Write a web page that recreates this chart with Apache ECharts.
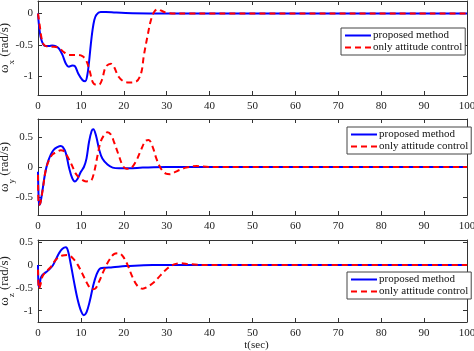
<!DOCTYPE html>
<html>
<head>
<meta charset="utf-8">
<script src="https://cdn.jsdelivr.net/npm/echarts@6/dist/echarts.min.js"></script>
<style>
html,body{margin:0;padding:0;background:#fff;}
#main{width:474px;height:351px;}
</style>
</head>
<body>
<div id="main"></div>
<script>
// omega_x
var tBx = [0,0.23,0.6,1.2,1.8,2.6,3.3,4.1,4.9,5.7,6.5,7.2,8.0,8.6,9.4,10.35,11.0,11.5,11.9,12.3,12.7,13.1,13.6,14.6,15.8,18.1,22,30,100];
var bX  = [0,-0.19,-0.37,-0.49,-0.52,-0.52,-0.51,-0.52,-0.56,-0.66,-0.8,-0.85,-0.83,-0.84,-0.96,-1.06,-1.08,-0.98,-0.77,-0.5,-0.27,-0.11,-0.02,0.025,0.025,0.015,0.005,0,0];
var tRx = [0,0.4,0.85,1.4,2.6,3.7,4.9,6.1,7.2,8.8,10.35,11.3,12.1,12.8,13.7,14.4,15.0,15.8,17.0,17.7,18.8,19.9,21.2,22.8,24.0,24.7,25.5,26.3,27.1,27.9,28.6,29.8,32,100];
var rX  = [0,-0.19,-0.4,-0.5,-0.53,-0.53,-0.55,-0.62,-0.66,-0.66,-0.68,-0.76,-0.93,-1.1,-1.14,-1.13,-1.04,-0.85,-0.8,-0.85,-1.01,-1.08,-1.1,-1.09,-0.96,-0.66,-0.37,-0.11,0.03,0.07,0.05,0.015,0,0];

// omega_y
var tBy = [0,0.15,0.3,0.55,1.0,1.6,2.2,3.0,3.7,4.5,5.3,5.8,6.5,7.2,8.0,8.6,9.2,10.0,10.7,11.3,11.9,12.5,12.9,13.5,14.3,15.0,16.2,17.4,18.9,21.2,24.4,30,100];
var bY  = [-0.08,-0.52,-0.63,-0.6,-0.41,-0.13,0.06,0.21,0.29,0.33,0.35,0.33,0.23,0,-0.19,-0.24,-0.2,-0.08,0,0.14,0.42,0.6,0.63,0.53,0.28,0.14,0.04,-0.01,-0.02,-0.02,-0.01,0,0];
var tRy = [0,0.2,0.55,1.2,1.8,2.6,3.4,4.1,5.3,6.1,6.9,7.9,8.8,10.0,11.2,12.3,13.1,13.9,14.6,15.4,16.2,17.0,17.7,18.8,19.7,20.6,21.6,22.8,24.0,25.0,25.8,26.7,27.6,28.6,29.8,30.8,31.8,33.0,34.5,37,40,100];
var rY  = [-0.13,-0.63,-0.6,-0.33,-0.05,0.12,0.21,0.24,0.28,0.26,0.17,0.03,-0.11,-0.2,-0.24,-0.23,-0.08,0.2,0.42,0.53,0.58,0.54,0.42,0.2,0.03,-0.03,-0.02,0.09,0.28,0.43,0.45,0.34,0.14,-0.02,-0.11,-0.12,-0.09,-0.05,-0.01,0.015,0,0];

// omega_z
var tBz = [0,0.08,0.23,0.4,0.6,1.0,1.8,2.6,3.4,4.1,4.9,5.7,6.5,7.0,7.6,8.4,9.2,10.0,10.7,11.3,12.1,12.8,13.6,14.6,15.8,17.4,20.5,23.6,26.7,100];
var bZ  = [0,-0.37,-0.48,-0.44,-0.3,-0.22,-0.16,-0.1,-0.015,0.11,0.26,0.36,0.39,0.31,0.04,-0.37,-0.74,-1.0,-1.1,-1.04,-0.78,-0.48,-0.22,-0.07,-0.06,-0.05,-0.02,-0.01,0,0];
var tRz = [0,0.23,0.55,1.0,1.8,3.0,4.1,5.7,6.9,8.0,9.2,10.35,11.5,12.5,13.3,14.2,15.4,16.6,17.7,18.9,19.8,20.9,22.0,23.2,24.4,25.5,27.1,28.6,30.2,31.7,33.3,35.2,40,100];
var rZ  = [-0.1,-0.52,-0.44,-0.26,-0.15,-0.04,0.11,0.21,0.22,0.16,0.015,-0.19,-0.41,-0.53,-0.52,-0.37,-0.11,0.11,0.24,0.26,0.19,0,-0.26,-0.46,-0.52,-0.48,-0.37,-0.22,-0.07,0.015,0.04,0.02,0,0];

var xTicks = [0,10,20,30,40,50,60,70,80,90,100];
var yTicks1 = [-1,-0.5,0];
var yTicks2 = [-0.5,0,0.5];
var yTicks3 = [-1,-0.5,0,0.5];
var names = ['proposed method','only attitude control'];

var font = 'Liberation Serif';
function pairs(t, v){ return t.map(function(x,i){ return [x, v[i]]; }); }

var grids = [
  {left:38, right:7, top:1, height:94, outerBoundsMode:'none', containLabel:false},
  {left:38, right:7, top:119, height:96, outerBoundsMode:'none', containLabel:false},
  {left:38, right:7, top:240, height:82, outerBoundsMode:'none', containLabel:false}
];
var yRanges = [[-1.3,0.2],[-0.8,0.8],[-1.25,0.55]];
var yTicks = [yTicks1, yTicks2, yTicks3];
var ySub = ['x','y','z'];
var legendPos = [{left:341, top:28},{left:347, top:127},{left:347, top:272}];

var xAxes = [], yAxes = [], legends = [], series = [];
var lineAx = {show:true, onZero:false, lineStyle:{color:'#333', width:1}};
for (var g = 0; g < 3; g++) {
  var xa = {type:'value', gridIndex:g, min:0, max:100, position:'bottom',
    axisLine:lineAx, splitLine:{show:false},
    axisTick:{inside:true, length:4, customValues:xTicks, lineStyle:{color:'#333'}},
    axisLabel:{margin:6, customValues:xTicks, color:'#222', fontFamily:font, fontSize:11}};
  if (g == 2) {
    xa.name = 't(sec)'; xa.nameLocation = 'middle'; xa.nameGap = 18; xa.nameMoveOverlap = false;
    xa.nameTextStyle = {color:'#222', fontFamily:font, fontSize:11, padding:[0,0,0,8]};
  }
  xAxes.push(xa);
  xAxes.push({type:'value', gridIndex:g, min:0, max:100, position:'top',
    axisLine:lineAx, splitLine:{show:false}, axisLabel:{show:false},
    axisTick:{inside:true, length:4, customValues:xTicks, lineStyle:{color:'#333'}}});
  yAxes.push({type:'value', gridIndex:g, min:yRanges[g][0], max:yRanges[g][1], position:'left',
    axisLine:lineAx, splitLine:{show:false},
    axisTick:{inside:true, length:4, customValues:yTicks[g], lineStyle:{color:'#333'}},
    axisLabel:{margin:5, customValues:yTicks[g], color:'#222', fontFamily:font, fontSize:11},
    name:'{w|ω}{s|' + ySub[g] + '}{w| (rad/s)}', nameLocation:'middle', nameGap:22,
    nameMoveOverlap:false,
    nameTextStyle:{color:'#222', fontFamily:font, fontSize:13,
      rich:{w:{fontFamily:font, fontSize:13, lineHeight:18, verticalAlign:'top'},
            s:{fontFamily:font, fontSize:9, lineHeight:18, verticalAlign:'bottom'}}}});
  yAxes.push({type:'value', gridIndex:g, min:yRanges[g][0], max:yRanges[g][1], position:'right',
    axisLine:lineAx, splitLine:{show:false}, axisLabel:{show:false},
    axisTick:{inside:true, length:4, customValues:yTicks[g], lineStyle:{color:'#333'}}});
  legends.push({left:legendPos[g].left, top:legendPos[g].top, orient:'vertical',
    data:names, itemGap:1, itemWidth:26, itemHeight:10, padding:[2,3,2,3],
    borderColor:'#444', borderWidth:1, backgroundColor:'#fff', selectedMode:false,
    itemStyle:{opacity:0},
    textStyle:{fontFamily:font, fontSize:11, color:'#111', padding:[0,0,0,-3]}});
}

var blueData = [pairs(tBx,bX), pairs(tBy,bY), pairs(tBz,bZ)];
var redData = [pairs(tRx,rX), pairs(tRy,rY), pairs(tRz,rZ)];
for (var k = 0; k < 3; k++) {
  series.push({name:names[0], type:'line', xAxisIndex:2*k, yAxisIndex:2*k, data:blueData[k],
    showSymbol:false, symbol:'none', smooth:0.35, color:'#0000ff',
    lineStyle:{color:'#0000ff', width:2}, z:2});
  series.push({name:names[1], type:'line', xAxisIndex:2*k, yAxisIndex:2*k, data:redData[k],
    showSymbol:false, symbol:'none', smooth:0.35, color:'#ff0000',
    lineStyle:{color:'#ff0000', width:2, type:[6,4]}, z:3});
}

var myChart = echarts.init(document.getElementById('main'), null, {renderer:'canvas'});
myChart.setOption({
  animation:false,
  backgroundColor:'#fff',
  grid:grids,
  xAxis:xAxes,
  yAxis:yAxes,
  legend:legends,
  series:series
});
</script>
</body>
</html>
